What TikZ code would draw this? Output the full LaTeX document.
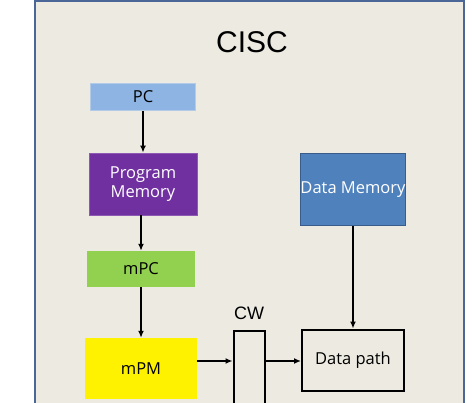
\documentclass[tikz,border=0pt]{standalone}
\usepackage{fontspec}
\setmainfont{Open Sans}
\newfontfamily\arialf{Liberation Sans}
\usetikzlibrary{arrows.meta}
\definecolor{panelbg}{HTML}{EDEAE1}
\definecolor{panelbd}{HTML}{4A6797}
\definecolor{pcfill}{HTML}{8DB4E2}
\definecolor{pcbd}{HTML}{B4CBE8}
\definecolor{pmfill}{HTML}{7030A0}
\definecolor{mpcfill}{HTML}{92D050}
\definecolor{dmfill}{HTML}{4F81BD}
\definecolor{dmbd}{HTML}{385D8A}
\tikzset{
  box/.style={rectangle, inner sep=0pt, align=center, font=\fontsize{16.5}{19}\selectfont},
  arr/.style={line width=1.5pt, -{Latex[length=7pt,width=6pt]}},
}
\begin{document}
\begin{tikzpicture}[x=1pt,y=-1pt]
\useasboundingbox (0,0) rectangle (474,402);
\fill[white] (0,0) rectangle (474,402);
\draw[line width=2.2pt, draw=panelbd, fill=panelbg] (35,1) rectangle (464,420);
\node[font=\arialf\fontsize{30}{33}\selectfont] (title) at (252,42) {CISC};
\node[box, fill=pcfill, draw=pcbd, line width=1.5pt, minimum width=105pt, minimum height=27pt] (pc) at (143,97) {PC};
\node[box, fill=pmfill, draw=pmfill!80!white, line width=0.8pt, text=white, minimum width=108pt, minimum height=62pt] (pm) at (143,184) {Program\\Memory};
\node[box, fill=mpcfill, minimum width=108pt, minimum height=36pt] (mpc) at (141,269) {mPC};
\node[box, fill=yellow, minimum width=112pt, minimum height=61pt] (mpm) at (141,368.5) {mPM};
\node[box, draw=black, line width=2pt, minimum width=31pt, minimum height=82pt] (cw) at (249,372) {};
\node[font=\arialf\fontsize{18}{20}\selectfont] (cwl) at (249,313) {CW};
\node[box, draw=black, line width=2pt, fill=panelbg, minimum width=102pt, minimum height=61pt] (dp) at (353,360) {Data path};
\node[box, fill=dmfill, draw=dmbd, line width=1.5pt, text=white, minimum width=105pt, minimum height=72pt] (dm) at (353,189.5) {Data Memory};
\coordinate (ry) at (0,361);
\draw[arr] (pc) -- (pm);
\draw[arr] (pm.south -| mpc) -- (mpc.north);
\draw[arr] (mpc) -- (mpm);
\draw[arr] (mpm.east |- ry) -- (cw.west |- ry);
\draw[arr] (cw.east |- ry) -- (dp.west |- ry);
\draw[arr] (dm) -- (dp);
\end{tikzpicture}
\end{document}
